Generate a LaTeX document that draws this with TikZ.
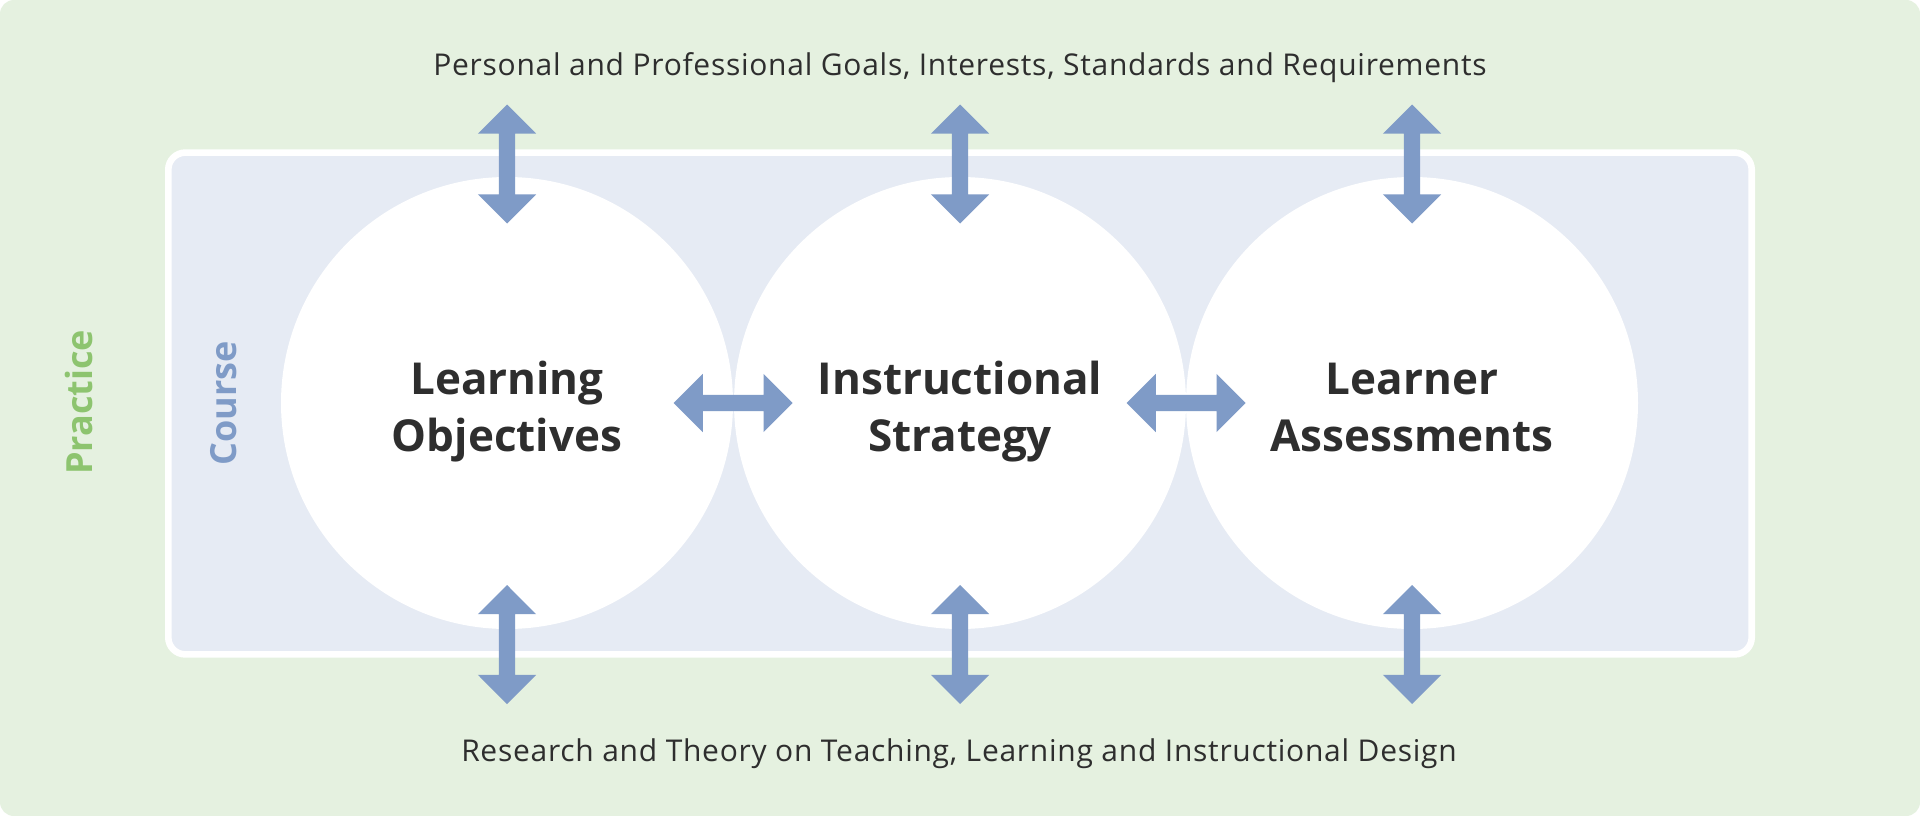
\documentclass[tikz,border=0pt]{standalone}
\usepackage{fontspec}
\setmainfont{Open Sans}
\usetikzlibrary{shapes.arrows,positioning}
\definecolor{practicebg}{HTML}{E5F1E0}
\definecolor{coursebg}{HTML}{E6EBF4}
\definecolor{arrowblue}{HTML}{7F9BC7}
\definecolor{practicegreen}{HTML}{8DC46F}
\definecolor{textdark}{HTML}{2E2E2E}
\newcommand\twolines[2]{\smash{\raisebox{-48pt}{\begin{tabular}[b]{@{}c@{}}#1\\#2\end{tabular}}}}
\begin{document}
\begin{tikzpicture}[x=1pt,y=-1pt,
    bubble/.style = {circle,fill=white,minimum size=452pt,inner sep=0pt,
      text=textdark,font=\bfseries\fontsize{44}{57}\selectfont},
    dblarrow/.style = {double arrow,fill=arrowblue,inner xsep=0pt,inner ysep=8pt,
      minimum height=119pt,minimum width=58pt,double arrow head extend=21pt},
    caption/.style = {anchor=base,text=textdark,
      font=\fontsize{30}{34}\selectfont\addfontfeature{LetterSpace=2.4}},
    sidelabel/.style = {anchor=base,rotate=90,font=\bfseries\fontsize{36}{40}\selectfont}]
  \useasboundingbox (0,0) rectangle (1920,816);
  \fill[white] (0,0) rectangle (1920,816);
  \fill[practicebg,rounded corners=14pt] (0,0) rectangle (1920,816);
  \draw[white,line width=6.6pt,fill=coursebg,rounded corners=17pt] (168.3,152.6) rectangle (1751.7,654.4);

  \node[bubble] (1) at (507,403) {\twolines{Learning}{Objectives}};
  \node[bubble] (2) at (960,403) {\twolines{Instructional}{Strategy}};
  \node[bubble] (3) at (1412,403) {\twolines{Learner}{Assessments}};

  \node[dblarrow] (12) at (1.east) {};
  \node[dblarrow] (23) at (2.east) {};
  \foreach \c in {1,2,3} {
    \node[dblarrow,rotate=90] (\c t) at ([yshift=12.8pt]\c.north) {};
    \node[dblarrow,rotate=90] (\c b) at ([yshift=-15.3pt]\c.south) {};
  }

  \node[caption] (goals) at (960,76) {Personal and Professional Goals, Interests, Standards and Requirements};
  \node[caption] (research) at (959,761) {Research and Theory on Teaching, Learning and Instructional Design};
  \node[sidelabel,text=practicegreen] (practice) at (92,402.5) {Practice};
  \node[sidelabel,text=arrowblue] (course) at (236,403.5) {Course};
\end{tikzpicture}
\end{document}
